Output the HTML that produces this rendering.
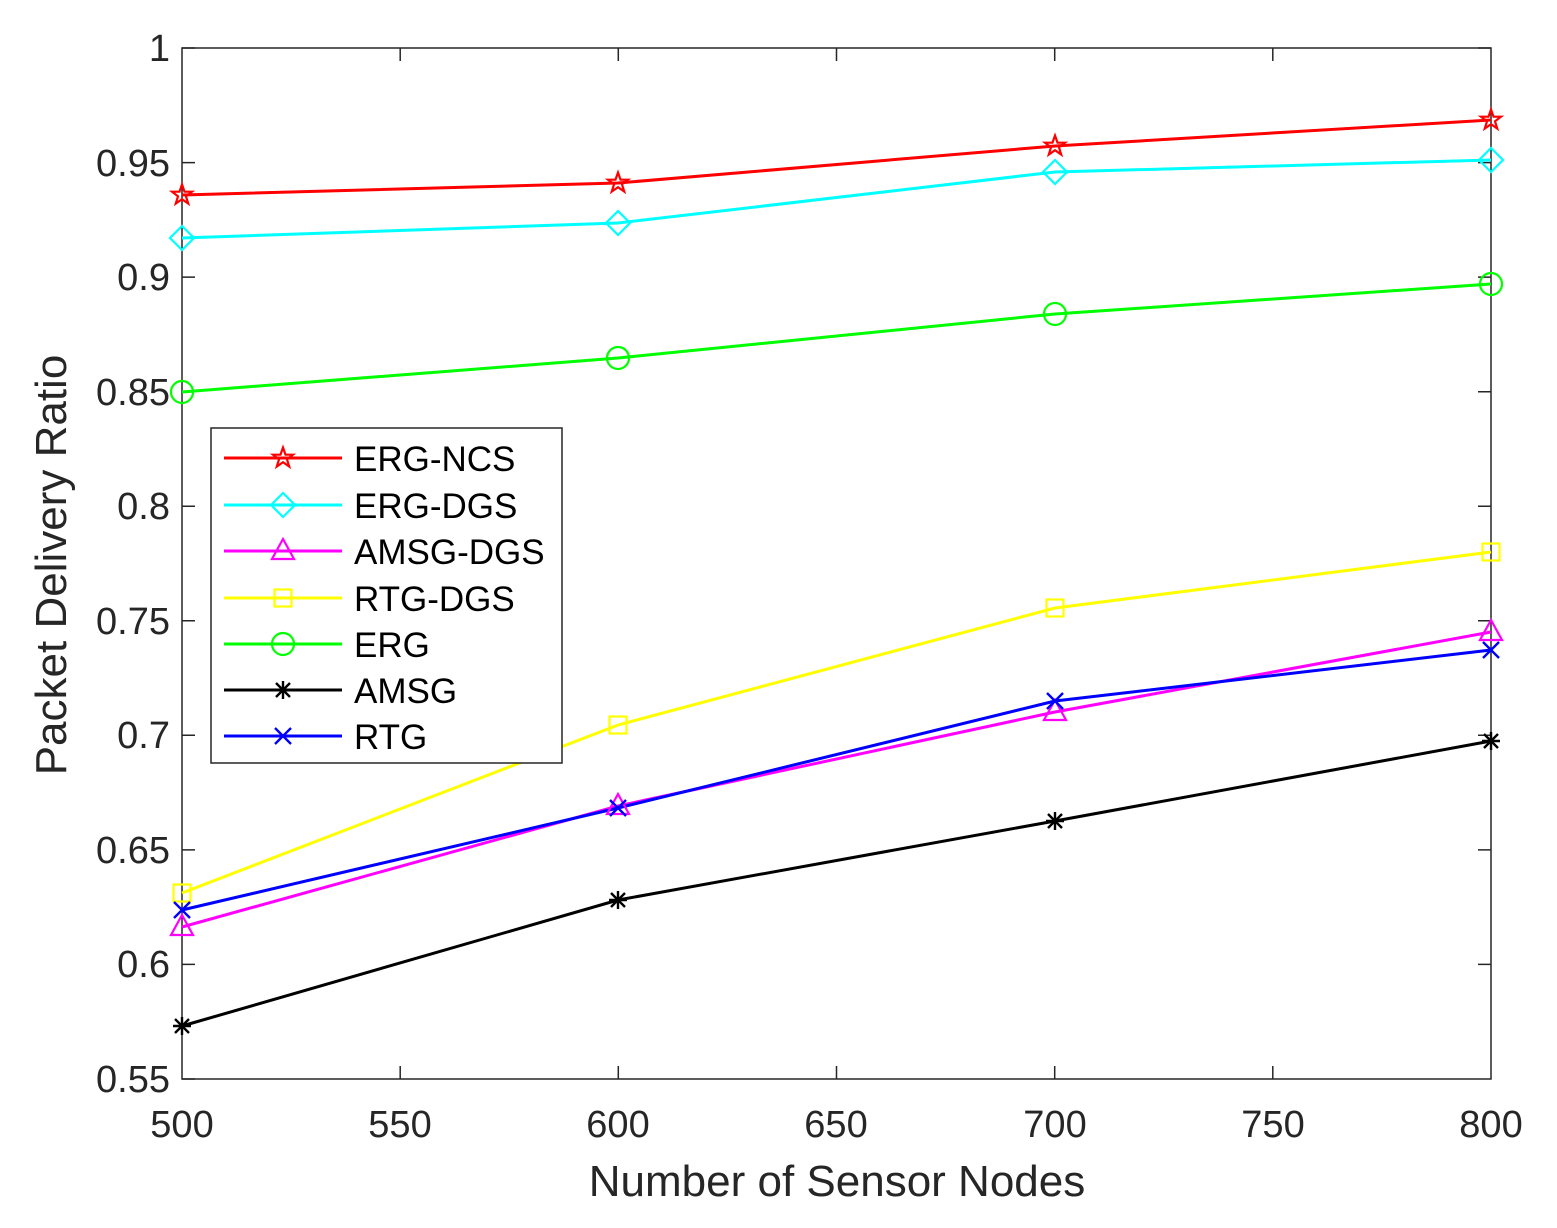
<!DOCTYPE html>
<html><head><meta charset="utf-8"><style>
html,body{margin:0;padding:0;background:#fff;}
svg{display:block;font-family:"Liberation Sans",Arial,sans-serif;}
</style></head><body>
<svg width="1557" height="1228" viewBox="0 0 1557 1228" xmlns="http://www.w3.org/2000/svg">
<rect width="1557" height="1228" fill="#fff"/>
<defs>
<g id="star"><polygon points="0,-10.5 2.5,-3.4 10,-3.3 4,1.3 6.2,8.5 0,4.2 -6.2,8.5 -4,1.3 -10,-3.3 -2.5,-3.4" fill="none" stroke="#f00" stroke-width="2.2"/></g>
<g id="dia"><polygon points="0,-12 12,0 0,12 -12,0" fill="none" stroke="#0ff" stroke-width="2.2"/></g>
<g id="tri"><polygon points="0,-12 11,8 -11,8" fill="none" stroke="#f0f" stroke-width="2.2"/></g>
<g id="sq"><rect x="-8.5" y="-8.5" width="17" height="17" fill="none" stroke="#ff0" stroke-width="2.2"/></g>
<g id="circ"><circle r="11" fill="none" stroke="#0f0" stroke-width="2.2"/></g>
<g id="ast" stroke="#000" stroke-width="2.4"><line x1="-9" y1="0" x2="9" y2="0"/><line x1="0" y1="-9" x2="0" y2="9"/><line x1="-7" y1="-7" x2="7" y2="7"/><line x1="-7" y1="7" x2="7" y2="-7"/></g>
<g id="x" stroke="#00f" stroke-width="2.4"><line x1="-8" y1="-8" x2="8" y2="8"/><line x1="-8" y1="8" x2="8" y2="-8"/></g>
</defs>
<g stroke="#262626" stroke-width="1.5" fill="none">
<rect x="182" y="48" width="1309" height="1031"/>
<path d="M182 48h13M182 162.6h13M182 277.1h13M182 391.7h13M182 506.2h13M182 620.8h13M182 735.3h13M182 849.9h13M182 964.4h13M182 1079h13"/>
<path d="M1491 48h-13M1491 162.6h-13M1491 277.1h-13M1491 391.7h-13M1491 506.2h-13M1491 620.8h-13M1491 735.3h-13M1491 849.9h-13M1491 964.4h-13"/>
<path d="M400.2 1079v-13M618.3 1079v-13M836.5 1079v-13M1054.7 1079v-13M1272.8 1079v-13"/>
<path d="M400.2 48v13M618.3 48v13M836.5 48v13M1054.7 48v13M1272.8 48v13"/>
</g>
<g font-size="38" fill="#262626" text-anchor="end">
<text x="170" y="61">1</text>
<text x="170" y="176">0.95</text>
<text x="170" y="290">0.9</text>
<text x="170" y="405">0.85</text>
<text x="170" y="519">0.8</text>
<text x="170" y="634">0.75</text>
<text x="170" y="748">0.7</text>
<text x="170" y="863">0.65</text>
<text x="170" y="977">0.6</text>
<text x="170" y="1092">0.55</text>
</g>
<g font-size="38" fill="#262626" text-anchor="middle">
<text x="182" y="1137">500</text>
<text x="400" y="1137">550</text>
<text x="618" y="1137">600</text>
<text x="836" y="1137">650</text>
<text x="1055" y="1137">700</text>
<text x="1273" y="1137">750</text>
<text x="1491" y="1137">800</text>
<text x="837" y="1196" font-size="44">Number of Sensor Nodes</text>
<text transform="translate(66,565) rotate(-90)" font-size="44">Packet Delivery Ratio</text>
</g>
<g fill="none" stroke-width="3">
<polyline stroke="#ff0" points="182,893 618,725 1055,608 1491,552"/>
<polyline stroke="#f0f" points="182,927 618,806 1055,712 1491,632"/>
<polyline stroke="#00f" points="182,910 618,808 1055,701 1491,650"/>
<polyline stroke="#000" points="182,1026 618,900 1055,821 1491,741"/>
<polyline stroke="#0f0" points="182,392 618,358 1055,314 1491,284"/>
<polyline stroke="#0ff" points="182,238 618,223 1055,172 1491,160"/>
<polyline stroke="#f00" points="182,195 618,183 1055,146 1491,120"/>
</g>
<use href="#sq" x="182" y="893"/><use href="#sq" x="618" y="725"/><use href="#sq" x="1055" y="608"/><use href="#sq" x="1491" y="552"/>
<use href="#tri" x="182" y="927"/><use href="#tri" x="618" y="806"/><use href="#tri" x="1055" y="712"/><use href="#tri" x="1491" y="632"/>
<use href="#x" x="182" y="910"/><use href="#x" x="618" y="808"/><use href="#x" x="1055" y="701"/><use href="#x" x="1491" y="650"/>
<use href="#ast" x="182" y="1026"/><use href="#ast" x="618" y="900"/><use href="#ast" x="1055" y="821"/><use href="#ast" x="1491" y="741"/>
<use href="#circ" x="182" y="392"/><use href="#circ" x="618" y="358"/><use href="#circ" x="1055" y="314"/><use href="#circ" x="1491" y="284"/>
<use href="#dia" x="182" y="238"/><use href="#dia" x="618" y="223"/><use href="#dia" x="1055" y="172"/><use href="#dia" x="1491" y="160"/>
<use href="#star" x="182" y="195"/><use href="#star" x="618" y="183"/><use href="#star" x="1055" y="146"/><use href="#star" x="1491" y="120"/>
<rect x="211" y="428" width="351" height="335" fill="#fff" stroke="#262626" stroke-width="1.5"/>
<g stroke-width="3">
<line x1="224" y1="458" x2="342" y2="458" stroke="#f00"/>
<line x1="224" y1="505" x2="342" y2="505" stroke="#0ff"/>
<line x1="224" y1="551" x2="342" y2="551" stroke="#f0f"/>
<line x1="224" y1="598" x2="342" y2="598" stroke="#ff0"/>
<line x1="224" y1="644" x2="342" y2="644" stroke="#0f0"/>
<line x1="224" y1="690" x2="342" y2="690" stroke="#000"/>
<line x1="224" y1="736" x2="342" y2="736" stroke="#00f"/>
</g>
<use href="#star" x="283" y="458"/><use href="#dia" x="283" y="505"/><use href="#tri" x="283" y="551"/><use href="#sq" x="283" y="598"/><use href="#circ" x="283" y="644"/><use href="#ast" x="283" y="690"/><use href="#x" x="283" y="736"/>
<g font-size="35" fill="#000">
<text x="354" y="471">ERG-NCS</text>
<text x="354" y="518">ERG-DGS</text>
<text x="354" y="564">AMSG-DGS</text>
<text x="354" y="611">RTG-DGS</text>
<text x="354" y="657">ERG</text>
<text x="354" y="703">AMSG</text>
<text x="354" y="749">RTG</text>
</g>
</svg>
</body></html>
